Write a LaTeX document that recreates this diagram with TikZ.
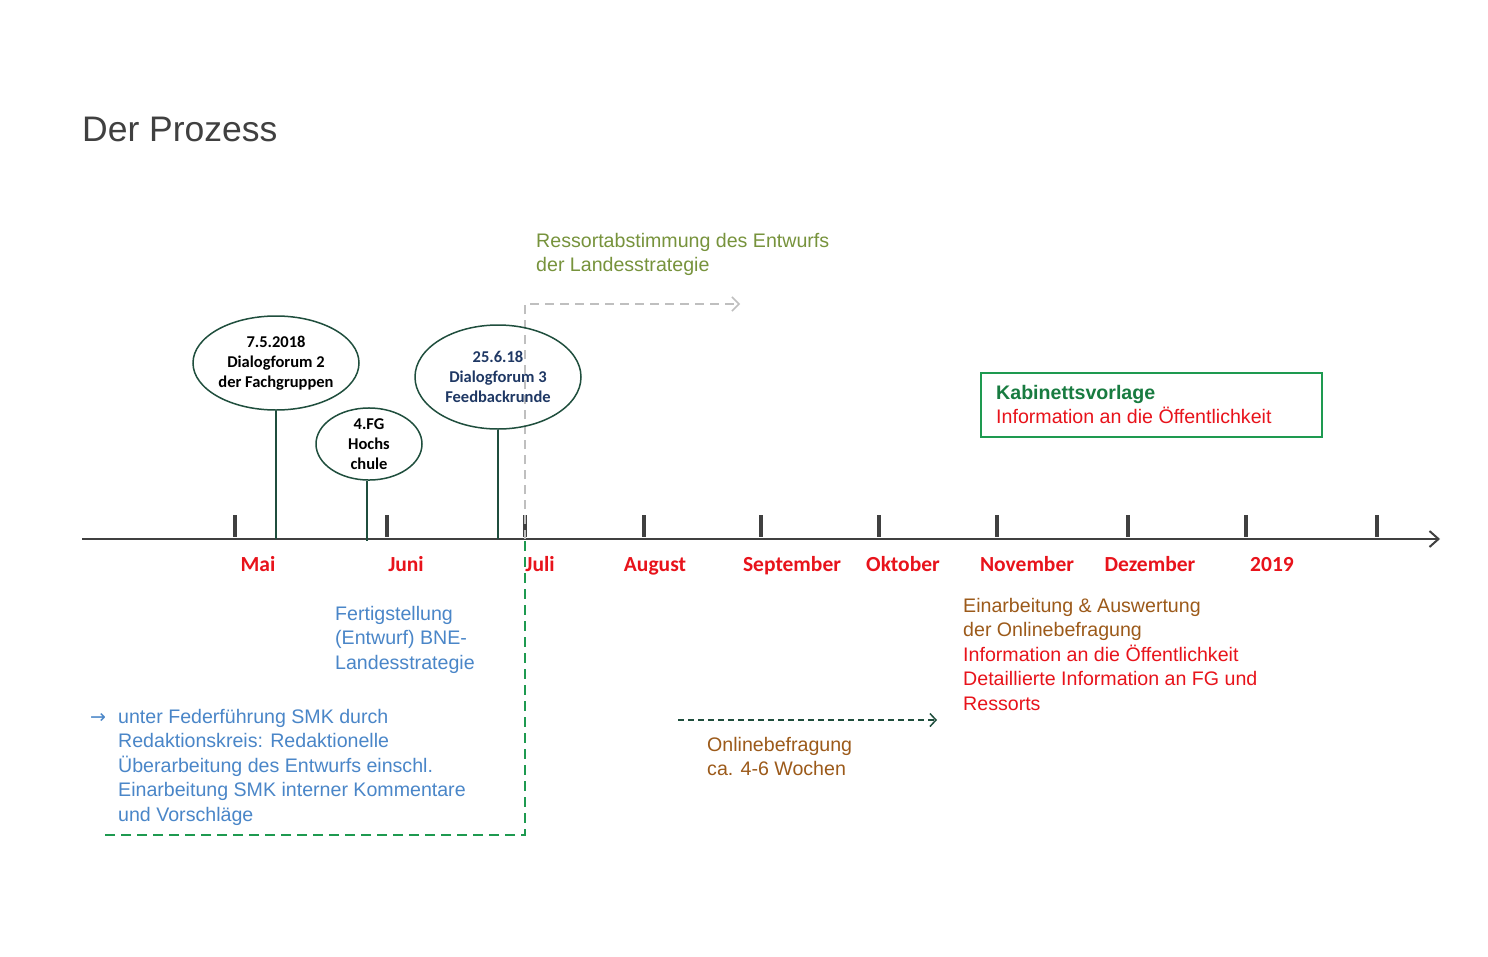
\documentclass[tikz,border=0pt]{standalone}
\usepackage{fontspec}
\setmainfont{Liberation Sans}
\newfontfamily\carfont{Carlito}
\usetikzlibrary{arrows.meta,shapes.geometric}
\definecolor{ttl}{HTML}{404040}
\definecolor{red1}{HTML}{E8131B}
\definecolor{olive}{HTML}{77933C}
\definecolor{blu}{HTML}{4A86C8}
\definecolor{brn}{HTML}{9C5A1A}
\definecolor{grn}{HTML}{1E9A50}
\definecolor{dgrn}{HTML}{1F4E3D}
\definecolor{navy}{HTML}{1F3864}
\tikzset{x=1pt,y=-1pt,
 txt/.style={inner sep=0pt,anchor=north west,align=left,font=\fontsize{19.6}{24.5}\selectfont},
 mon/.style={inner sep=0pt,anchor=base,text=red1,font=\carfont\bfseries\fontsize{21.5}{24}\selectfont},
 ev/.style={draw=dgrn,line width=1.5pt,ellipse,inner sep=0pt,align=center,font=\carfont\bfseries\fontsize{16.5}{20}\selectfont},
 tick/.style={line width=3.5pt,draw=ttl},
 stem/.style={draw=dgrn,line width=1.3pt}}
\begin{document}
\begin{tikzpicture}
\useasboundingbox[fill=white] (0,0) rectangle (1488,956);
\node[inner sep=0,anchor=base west,text=ttl,font=\fontsize{35.5}{40}\selectfont] (title) at (82,141) {Der Prozess};
% axis
\coordinate (a0) at (82,539); \coordinate (a1) at (1440,539);
\draw[line width=2pt,ttl,-{Straight Barb[length=9pt,width=16pt]}] (a0) -- (a1);
\foreach \x in {235,387,525,644,761,879,997,1128,1246,1377}{\draw[tick] (\x,515) -- (\x,537);}
\foreach \x/\m in {258/Mai,406/Juni,540/Juli,655/August,792/September,903/Oktober,1027/November,1150/Dezember,1272/2019}
 {\node[mon] (m\m) at (\x,571) {\m};}
% ellipses
\node[ev,minimum width=166pt,minimum height=94pt] (e1) at (276,363) {7.5.2018\\Dialogforum 2\\der Fachgruppen};
\coordinate (s1) at (276,539); \draw[stem] (e1.south) -- (s1);
\node[ev,minimum width=106pt,minimum height=70pt] (e2) at (369,444) {4.FG\\Hochs\\chule};
\coordinate (s2) at (367,541); \draw[stem] (e2.south) ++(-2,0) -- (s2);
% gray dashed
\coordinate (g0) at (525,539); \coordinate (g1) at (525,304); \coordinate (g2) at (740,304);
\draw[gray!50,line width=1.5pt,dash pattern=on 9pt off 6pt,-{Straight Barb[length=7pt,width=14pt]}] (g0) -- (g1) -- (g2);
\node[ev,minimum width=166pt,minimum height=104pt,text=navy] (e3) at (498,377) {25.6.18\\Dialogforum 3\\Feedbackrunde};
\coordinate (s3) at (498,539); \draw[stem] (e3.south) -- (s3);
\node[txt,text=olive] (ress) at (536,233) {Ressortabstimmung des Entwurfs\\der Landesstrategie};
% green dashed
\coordinate (d0) at (525,541); \coordinate (d1) at (525,835); \coordinate (d2) at (100,835);
\draw[grn,line width=1.6pt,dash pattern=on 10pt off 6pt] (d0) -- (d1) -- (d2);
\node[txt,text=blu] (fert) at (335,606) {Fertigstellung\\(Entwurf) BNE-\\Landesstrategie};
\node[txt,text=blu] (unter) at (90,709) {\makebox[28pt][l]{\fontspec{DejaVu Sans}\fontsize{19}{24.5}\selectfont →}unter Federführung SMK durch\\\hspace*{28pt}Redaktionskreis: Redaktionelle\\\hspace*{28pt}Überarbeitung des Entwurfs einschl.\\\hspace*{28pt}Einarbeitung SMK interner Kommentare\\\hspace*{28pt}und Vorschläge};
% online
\coordinate (o0) at (678,720); \coordinate (o1) at (937,720);
\draw[dgrn,line width=1.5pt,dash pattern=on 6pt off 4pt,-{Straight Barb[length=6pt,width=13pt]}] (o0) -- (o1);
\node[txt,text=brn] (onl) at (707,737) {Onlinebefragung\\ca. 4-6 Wochen};
\node[txt] (einar) at (963,598) {\textcolor{brn}{Einarbeitung \& Auswertung}\\\textcolor{brn}{der Onlinebefragung}\\\textcolor{red1}{Information an die Öffentlichkeit}\\\textcolor{red1}{Detaillierte Information an FG und}\\\textcolor{red1}{Ressorts}};
% box
\node[draw=grn,line width=1.5pt,minimum width=341pt,minimum height=64pt,anchor=north west,inner sep=0] (box) at (980,372) {};
\node[txt] (kab) at ([xshift=16pt,yshift=-13pt]box.north west) {\textcolor{grn!80!black}{\bfseries Kabinettsvorlage}\\\textcolor{red1}{Information an die Öffentlichkeit}};
\end{tikzpicture}
\end{document}
